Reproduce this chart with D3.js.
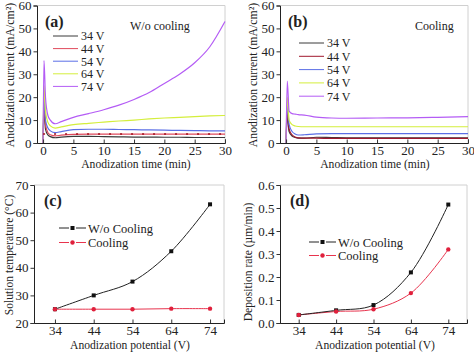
<!DOCTYPE html>
<html>
<head>
<meta charset="utf-8">
<script src="https://cdn.jsdelivr.net/npm/d3@7"></script>
<style>
  body { margin: 0; background: #fff; }
  svg text { font-family: "Liberation Serif", "Times New Roman", Times, "DejaVu Serif", serif !important; }
</style>
</head>
<body>
<svg id="chart" width="474" height="353"></svg>
<script>
// ---- data ----
const voltLabels = ['34 V', '44 V', '54 V', '64 V', '74 V']

// (a) without cooling: anodization current vs time
const timeA = [0, 0.15, 0.4, 0.8, 1.2, 2, 3, 5, 7.5, 10, 12.5, 15, 17.5, 20, 22.5, 25, 27.5, 30]
const curA34 = [0, 14, 6, 3.5, 2.8, 2.3, 2.6, 2.9, 2.9, 2.8, 2.7, 2.6, 2.6, 2.5, 2.5, 2.4, 2.4, 2.4]
const curA44 = [0, 17, 8, 4.5, 3.6, 3.1, 3.4, 3.8, 3.9, 3.9, 3.9, 3.9, 3.9, 3.9, 3.9, 3.9, 3.9, 3.9]
const curA54 = [0, 20, 10, 6.5, 5.3, 4.5, 5, 5.8, 6, 6, 5.9, 5.8, 5.7, 5.6, 5.5, 5.4, 5.3, 5.3]
const curA64 = [0, 25, 14, 9, 7.5, 6.5, 7, 8, 8.6, 9.1, 9.6, 10, 10.5, 10.9, 11.2, 11.5, 11.8, 12]
const curA74 = [0, 36, 20, 12, 10, 8.4, 9.3, 11.2, 12.8, 14.5, 16.5, 19, 22, 26, 30, 35, 42, 53]

// (b) with cooling
const timeB = [0, 0.2, 0.5, 1, 1.5, 2, 3, 5, 7.5, 10, 15, 20, 25, 30]
const curB34 = [0, 12, 5, 3, 2.4, 2.1, 2.1, 2.5, 2.4, 2.3, 2.3, 2.3, 2.3, 2.3]
const curB44 = [0, 14, 6, 3.5, 2.6, 2.2, 2.1, 2.1, 2.0, 2.0, 2.0, 2.0, 2.0, 2.0]
const curB54 = [0, 17, 8, 5, 3.9, 3.5, 3.6, 4, 4.1, 4.1, 4.1, 4.1, 4.1, 4.1]
const curB64 = [0, 20, 10, 8, 7.4, 7.2, 7.1, 7.1, 7.1, 7.1, 7.1, 7.1, 7.1, 7.1]
const curB74 = [0, 27, 14, 12.8, 12.6, 12.4, 12.2, 11.3, 10.9, 10.8, 10.9, 11, 11.2, 11.5]

// (c), (d) vs anodization potential
const potentials = [34, 44, 54, 64, 74]
const tempNoCool = [25, 30, 35, 46, 63]
const tempCool = [25, 25, 25, 25.2, 25.2]
const rateNoCool = [0.035, 0.055, 0.078, 0.22, 0.515]
const rateCool = [0.035, 0.05, 0.06, 0.13, 0.32]

const colorsA = ['#3a3a3a', '#e04a5c', '#5b6fe6', '#d4ee3c', '#b45cf5']
const colorsB = ['#3a3a3a', '#a0182e', '#5b6fe6', '#d4ee3c', '#b45cf5']

const svg = d3.select('#chart')

function frame(x, y) {
    const g = svg.append('g')
    const [x0, x1] = x.range()
    const [y0, y1] = y.range()
    g.append('line').attr('x1', x0).attr('x2', x1).attr('y1', y1).attr('y2', y1).attr('stroke', '#d0d0d0')
    g.append('line').attr('x1', x1).attr('x2', x1).attr('y1', y0).attr('y2', y1).attr('stroke', '#d0d0d0')
}

function axes(x, y, xTicks, yTicks, xMinor, yMinor, yFmt) {
    const [x0, x1] = x.range()
    const [y0, y1] = y.range()
    const gx = svg.append('g').attr('transform', 'translate(0,' + y0 + ')')
    gx.call(d3.axisBottom(x).tickValues(xMinor).tickSize(-2).tickFormat(''))
    gx.call(d3.axisBottom(x).tickValues(xTicks).tickSize(-3.5).tickPadding(3).tickFormat(d3.format('d')))
    const gy = svg.append('g').attr('transform', 'translate(' + x0 + ',0)')
    gy.call(d3.axisLeft(y).tickValues(yMinor).tickSize(2).tickFormat(''))
    gy.call(d3.axisLeft(y).tickValues(yTicks).tickSize(3.5).tickPadding(2).tickFormat(yFmt))
    svg.selectAll('.domain').attr('stroke', '#222')
    svg.selectAll('.tick line').attr('stroke', '#333')
    svg.selectAll('.tick text').attr('font-size', 13).attr('fill', '#222')
}

function yTitle(txt, x, cy, fs) {
    svg.append('text').attr('transform', 'translate(' + x + ',' + cy + ') rotate(-90)')
        .attr('text-anchor', 'middle').attr('font-size', fs).attr('fill', '#222').text(txt)
}
function xTitle(txt, cx, y) {
    svg.append('text').attr('x', cx).attr('y', y)
        .attr('text-anchor', 'middle').attr('font-size', 11.6).attr('fill', '#222').text(txt)
}
function tag(txt, x, y) {
    svg.append('text').attr('x', x).attr('y', y).attr('font-size', 16)
        .attr('font-weight', 'bold').attr('fill', '#222').text(txt)
}

// ---------- (a) and (b): current vs time ----------
function currentPanel(times, series, colors, xr, note, noteX, letter, legX, legY, legStep) {
    const x = d3.scaleLinear().domain([-1, 30]).range(xr)
    const y = d3.scaleLinear().domain([0, 60]).range([143, 5.5])
    frame(x, y)
    const line = d3.line().x((d, i) => x(times[i])).y(d => y(d)).curve(d3.curveMonotoneX)
    series.forEach((s, k) => {
        svg.append('path').attr('d', line(s)).attr('fill', 'none')
            .attr('stroke', colors[k]).attr('stroke-width', 1.2)
    })
    axes(x, y, [0, 5, 10, 15, 20, 25, 30], [0, 10, 20, 30, 40, 50, 60],
        d3.range(0, 30.1, 2.5), d3.range(0, 60.1, 5), d3.format('d'))
    tag(letter, xr[0] + 8, 27)
    svg.append('text').attr('x', noteX).attr('y', 30).attr('font-size', 12).attr('fill', '#222').text(note)
    voltLabels.forEach((lab, k) => {
        const ly = legY + k * legStep
        svg.append('line').attr('x1', legX).attr('x2', legX + 25).attr('y1', ly).attr('y2', ly)
            .attr('stroke', colors[k]).attr('stroke-width', 1)
        svg.append('text').attr('x', legX + 28).attr('y', ly + 4.3).attr('font-size', 12)
            .attr('fill', '#222').text(lab)
    })
    return { x, y, line }
}

const pa = currentPanel(timeA, [curA34, curA44, curA54, curA64, curA74], colorsA, [37, 225],
    'W/o cooling', 130, '(a)', 53, 36, 12.6)
// dark red noise along the 44 V trace
svg.append('path').attr('d', pa.line(curA44.map((v, i) => timeA[i] > 8 ? v : 3.9)))
    .attr('fill', 'none').attr('stroke', '#a0101c').attr('stroke-width', 1.4)
    .attr('stroke-dasharray', '2,9')
yTitle('Anodization current (mA/cm²)', 14, 75, 11.8)
xTitle('Anodization time (min)', 136, 168)

const pb = currentPanel(timeB, [curB34, curB44, curB54, curB64, curB74], colorsB, [280, 468],
    'Cooling', 415, '(b)', 299, 43, 13.3)
yTitle('Anodization current (mA/cm²)', 257, 75, 11.8)
xTitle('Anodization time (min)', 375, 168)

// ---------- (c) and (d): vs potential ----------
function potentialPanel(xr, yDom, yTicks, yMinor, yFmt, a, b) {
    const x = d3.scaleLinear().domain(xr === 'c' ? [28.6, 77.6] : [29, 79]).range(xr === 'c' ? [34, 224] : [280, 467])
    const y = d3.scaleLinear().domain(yDom).range([323, 185])
    frame(x, y)
    const line = d3.line().x((d, i) => x(potentials[i])).y(d => y(d)).curve(d3.curveCatmullRom)
    svg.append('path').attr('d', line(b)).attr('fill', 'none').attr('stroke', '#e8344e').attr('stroke-width', 1)
    svg.append('path').attr('d', line(a)).attr('fill', 'none').attr('stroke', '#222').attr('stroke-width', 1)
    svg.append('g').selectAll('rect').data(a).join('rect')
        .attr('x', (d, i) => x(potentials[i]) - 2).attr('y', d => y(d) - 2)
        .attr('width', 4).attr('height', 4).attr('fill', '#111')
    svg.append('g').selectAll('circle').data(b).join('circle')
        .attr('cx', (d, i) => x(potentials[i])).attr('cy', d => y(d)).attr('r', 2.2).attr('fill', '#e0203c')
    axes(x, y, potentials, yTicks, d3.range(39, 79, 10), yMinor, yFmt)
    return { x, y }
}

function legendPot(lx, ly, step) {
    const items = [['W/o Cooling', '#222', 'sq'], ['Cooling', '#e8344e', 'ci']]
    items.forEach((it, k) => {
        const yy = ly + k * step
        svg.append('line').attr('x1', lx).attr('x2', lx + 10).attr('y1', yy).attr('y2', yy).attr('stroke', it[1])
        svg.append('line').attr('x1', lx + 17).attr('x2', lx + 27).attr('y1', yy).attr('y2', yy).attr('stroke', it[1])
        if (it[2] === 'sq') {
            svg.append('rect').attr('x', lx + 11.5).attr('y', yy - 2).attr('width', 4).attr('height', 4).attr('fill', '#111')
        } else {
            svg.append('circle').attr('cx', lx + 13.5).attr('cy', yy).attr('r', 2.2).attr('fill', '#e0203c')
        }
        svg.append('text').attr('x', lx + 29).attr('y', yy + 4.5).attr('font-size', 12.5)
            .attr('fill', '#222').text(it[0])
    })
}

potentialPanel('c', [20, 70], [20, 30, 40, 50, 60, 70], d3.range(25, 70, 10), d3.format('d'), tempNoCool, tempCool)
tag('(c)', 44, 206)
legendPot(59, 228, 14.5)
yTitle('Solution temperature (°C)', 13, 255, 11.6)
xTitle('Anodization potential (V)', 130, 349)

potentialPanel('d', [0, 0.6], [0, 0.1, 0.2, 0.3, 0.4, 0.5, 0.6], d3.range(0.05, 0.6, 0.1), d3.format('.1f'), rateNoCool, rateCool)
tag('(d)', 290, 206)
legendPot(309, 242, 13.5)
yTitle('Deposition rate (µm/min)', 252, 262, 11.6)
xTitle('Anodization potential (V)', 375, 349)
</script>
</body>
</html>
